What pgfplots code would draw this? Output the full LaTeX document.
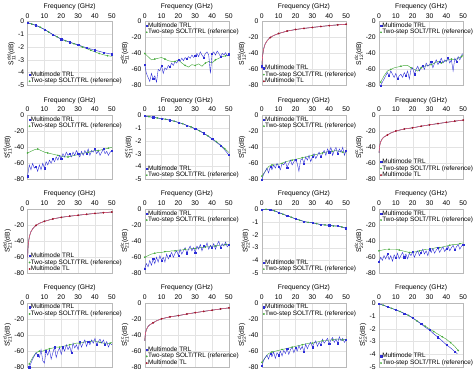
\documentclass[border=0pt]{standalone}
\usepackage{fontspec}
\setmainfont{Liberation Sans}
\usepackage{amsmath}
\usepackage{pgfplots}
\pgfplotsset{compat=1.18}
\usepgfplotslibrary{groupplots}
\definecolor{trl}{RGB}{45,45,215}
\definecolor{ref}{RGB}{70,170,60}
\definecolor{tl}{RGB}{235,95,115}
\definecolor{tlm}{RGB}{160,20,40}
\pgfplotsset{
  trls/.style={color=trl, line width=0.4pt, mark=square*, mark size=0.6pt, mark repeat=5},
  trlm/.style={color=trl, line width=0.45pt, mark=square*, mark size=0.65pt, mark repeat=2},
  refs/.style={color=ref, line width=0.45pt, mark=*, mark size=0.6pt, mark repeat=3},
  refm/.style={color=ref, line width=0.45pt, mark=*, mark size=0.6pt, mark repeat=2, mark phase=2},
  tls/.style={color=tl, line width=0.6pt, mark=none},
  tlmk/.style={only marks, mark=*, mark size=0.75pt, mark options={fill=tlm,draw=tlm}},
  magax/.style={ymin=-5, ymax=0, ytick={-5,-4,...,0}, legend style={at={(0.01,0.0)}, anchor=south west}},
  noiax/.style={ymin=-80, ymax=0, ytick={-80,-60,...,0}, legend style={at={(0.01,1.0)}, anchor=north west}},
  trax/.style={ymin=-80, ymax=0, ytick={-80,-60,...,0}, legend style={at={(0.01,0.0)}, anchor=south west}},
}
\newcommand{\legtwo}{\addlegendimage{color=trl, mark=square*, mark size=0.75pt}\addlegendentry{Multimode TRL}\addlegendimage{color=ref, mark=*, mark size=0.7pt}\addlegendentry{Two-step SOLT/TRL (reference)}}
\newcommand{\legthree}{\legtwo\addlegendimage{color=tlm, mark=*, mark size=0.75pt}\addlegendentry{Multimode TL}}
\newcommand{\Sl}[2]{$\text{S}^{\text{#1}}_{\text{#2}}$(dB)}
\newcommand{\TLa}{(0.05,-60)(0.2,-50)(0.5,-42)(1,-35)(1.5,-31)(2,-28)(3,-24.5)(4,-22)(5,-20)(7,-17.5)(10,-15)(12.5,-13.5)(15,-12)(17.5,-11)(20,-10)(25,-8.6)(30,-7.4)(35,-6.2)(40,-5.1)(45,-4.2)(50,-3.4)}
\newcommand{\TLam}{(5,-20)(10,-15)(15,-12)(20,-10)(25,-8.6)(30,-7.4)(35,-6.2)(40,-5.1)(45,-4.2)(50,-3.4)}
\newcommand{\TLb}{(0.05,-47)(0.2,-42)(0.5,-37)(1,-33)(2,-29)(3,-27)(5,-24.5)(7,-22)(10,-19.5)(15,-17)(20,-15.5)(25,-13.5)(30,-11.8)(35,-10.2)(40,-8.7)(45,-7.2)(50,-5.8)}
\newcommand{\TLbm}{(5,-24.5)(10,-19.5)(15,-17)(20,-15.5)(25,-13.5)(30,-11.8)(35,-10.2)(40,-8.7)(45,-7.2)(50,-5.8)}
\begin{document}
\begin{tikzpicture}
\begin{groupplot}[
  group style={group size=4 by 4, horizontal sep=34pt, vertical sep=31pt},
  scale only axis, width=87pt, height=66pt,
  xmin=0, xmax=50, xtick={0,10,...,50},
  xticklabel pos=upper, xlabel={Frequency (GHz)},
  grid=major, grid style={gray!22, line width=0.3pt},
  axis line style={gray!55, line width=0.4pt},
  major tick length=0pt,
  tick label style={font=\fontsize{7}{8}\selectfont},
  label style={font=\fontsize{7}{8}\selectfont},
  xlabel style={yshift=-3pt},
  ylabel style={yshift=-4pt},
  /pgf/number format/assume math mode=true,
  legend style={draw=none, fill=none, font=\fontsize{6.6}{6.6}\selectfont, inner sep=0.3pt, row sep=-0.6pt, nodes={inner sep=0.6pt}},
  legend cell align=left,
  legend image code/.code={\draw[#1] plot coordinates {(0.06cm,0cm)};},
]
% ---------- Row 1 ----------
\nextgroupplot[magax, ylabel={\Sl{dd}{11}}]
\legtwo
\addplot[refm, forget plot] coordinates {(0,-0.1)(2.5,-0.2)(5,-0.3)(7.5,-0.45)(10,-0.62)(12.5,-0.82)(15,-1.02)(17.5,-1.2)(20,-1.38)(22.5,-1.5)(25,-1.62)(27.5,-1.74)(30,-1.85)(32.5,-2.0)(35,-2.12)(37.5,-2.25)(40,-2.38)(42.5,-2.5)(45,-2.6)(47.5,-2.68)(50,-2.72)};
\addplot[trlm, forget plot] coordinates {(0,-0.1)(2.5,-0.2)(5,-0.3)(7.5,-0.45)(10,-0.62)(12.5,-0.82)(15,-1.02)(17.5,-1.2)(20,-1.38)(22.5,-1.5)(25,-1.62)(27.5,-1.72)(30,-1.82)(32.5,-1.95)(35,-2.05)(37.5,-2.15)(40,-2.25)(42.5,-2.33)(45,-2.42)(47.5,-2.5)(50,-2.55)};

\nextgroupplot[noiax, ylabel={\Sl{dc}{11}}]
\legtwo
\addplot[refs, forget plot] coordinates {(0,-40)(2,-44)(4,-48)(6,-47)(8,-46)(10,-45)(12,-47)(14,-49)(16,-50)(18,-50)(20,-48)(22,-52)(24,-55)(26,-57)(28,-54)(30,-55)(32,-53)(34,-56)(36,-52)(38,-50)(40,-52)(42,-48)(44,-46)(46,-44)(48,-43)(50,-42)};
\addplot[trls, forget plot] coordinates {(0,-54)(1,-65)(2,-70)(3,-75)(4,-65)(5,-72)(6,-68)(7,-76)(8,-60)(9,-62)(10,-55)(11,-65)(12,-58)(13,-60)(14,-55)(15,-57)(16,-52)(17,-55)(18,-50)(19,-52)(20,-48)(21,-50)(22,-46)(23,-49)(24,-45)(25,-47)(26,-44)(27,-46)(28,-42)(29,-45)(30,-43)(31,-40)(32,-44)(33,-38)(34,-42)(35,-45)(36,-40)(37,-38)(38,-42)(39,-65)(40,-40)(41,-38)(42,-42)(43,-37)(44,-40)(45,-44)(46,-40)(47,-42)(48,-39)(49,-43)(50,-41)};

\nextgroupplot[trax, ylabel={\Sl{dd}{12}}]
\legthree
\addplot[refs, mark=none, forget plot] coordinates {\TLa};
\addplot[trls, mark=none, forget plot] coordinates {\TLa};
\addplot[color=trl, only marks, mark=square*, mark size=0.65pt, forget plot] coordinates {(0.1,-56)};
\addplot[tls, forget plot] coordinates {\TLa};
\addplot[tlmk, forget plot] coordinates {\TLam};

\nextgroupplot[noiax, ylabel={\Sl{dc}{12}}]
\legtwo
\addplot[refs, forget plot] coordinates {(1,-76)(3,-68)(5,-62)(7,-60)(9,-58)(11,-57)(13,-56)(15,-55)(17,-55)(19,-58)(21,-60)(23,-62)(25,-58)(27,-56)(29,-55)(31,-54)(33,-52)(35,-50)(37,-52)(39,-50)(41,-48)(43,-47)(45,-48)(47,-46)(49,-44)(50,-42)};
\addplot[trls, forget plot] coordinates {(1,-80)(2,-76)(3,-72)(4,-68)(5,-64)(6,-68)(7,-62)(8,-66)(9,-70)(10,-65)(11,-72)(12,-68)(13,-66)(14,-70)(15,-64)(16,-68)(17,-62)(18,-72)(19,-60)(20,-58)(21,-66)(22,-60)(23,-56)(24,-62)(25,-58)(26,-55)(27,-60)(28,-52)(29,-56)(30,-54)(31,-50)(32,-58)(33,-52)(34,-48)(35,-54)(36,-50)(37,-46)(38,-52)(39,-48)(40,-50)(41,-45)(42,-52)(43,-48)(44,-62)(45,-46)(46,-50)(47,-44)(48,-48)(49,-42)(50,-40)};

% ---------- Row 2 ----------
\nextgroupplot[noiax, ylabel={\Sl{cd}{11}}]
\legtwo
\addplot[refs, forget plot] coordinates {(0,-47)(2,-45)(4,-43)(6,-42)(8,-44)(10,-46)(12,-47)(14,-48)(16,-49)(18,-50)(20,-51)(22,-52)(24,-52)(26,-51)(28,-50)(30,-49)(32,-48)(34,-47)(36,-46)(38,-45)(40,-44)(42,-44)(44,-43)(46,-42)(48,-41)(50,-40)};
\addplot[trls, forget plot] coordinates {(0,-76)(1,-62)(2,-68)(3,-60)(4,-66)(5,-64)(6,-70)(7,-62)(8,-68)(9,-60)(10,-66)(11,-58)(12,-62)(13,-56)(14,-60)(15,-54)(16,-58)(17,-52)(18,-56)(19,-50)(20,-54)(21,-48)(22,-52)(23,-46)(24,-50)(25,-48)(26,-52)(27,-46)(28,-50)(29,-44)(30,-48)(31,-52)(32,-45)(33,-50)(34,-44)(35,-48)(36,-42)(37,-50)(38,-44)(39,-46)(40,-42)(41,-48)(42,-44)(43,-50)(44,-46)(45,-42)(46,-48)(47,-45)(48,-50)(49,-46)(50,-44)};

\nextgroupplot[magax, ylabel={\Sl{cc}{11}}]
\legtwo
\addplot[refm, forget plot] coordinates {(0,-0.05)(2.5,-0.1)(5,-0.15)(7.5,-0.2)(10,-0.25)(12.5,-0.3)(15,-0.38)(17.5,-0.45)(20,-0.55)(22.5,-0.65)(25,-0.78)(27.5,-0.9)(30,-1.05)(32.5,-1.2)(35,-1.4)(37.5,-1.6)(40,-1.82)(42.5,-2.05)(45,-2.3)(47.5,-2.6)(50,-2.9)};
\addplot[trlm, forget plot] coordinates {(0,-0.05)(2.5,-0.1)(5,-0.15)(7.5,-0.2)(10,-0.25)(12.5,-0.3)(15,-0.38)(17.5,-0.45)(20,-0.55)(22.5,-0.65)(25,-0.78)(27.5,-0.9)(30,-1.05)(32.5,-1.2)(35,-1.4)(37.5,-1.6)(40,-1.85)(42.5,-2.1)(45,-2.35)(47.5,-2.7)(50,-3.1)};

\nextgroupplot[noiax, ylabel={\Sl{cd}{12}}]
\legtwo
\addplot[refs, forget plot] coordinates {(0,-76)(2,-70)(4,-64)(6,-62)(8,-62)(10,-61)(12,-60)(14,-58)(16,-57)(18,-56)(20,-55)(22,-54)(24,-53)(26,-52)(28,-51)(30,-50)(32,-49)(34,-48)(36,-47)(38,-46)(40,-45)(42,-45)(44,-44)(46,-45)(48,-46)(50,-46)};
\addplot[trls, forget plot] coordinates {(0,-80)(1,-74)(2,-70)(3,-66)(4,-72)(5,-64)(6,-68)(7,-62)(8,-66)(9,-60)(10,-64)(11,-68)(12,-60)(13,-62)(14,-58)(15,-65)(16,-60)(17,-56)(18,-62)(19,-58)(20,-55)(21,-60)(22,-70)(23,-56)(24,-54)(25,-60)(26,-52)(27,-56)(28,-50)(29,-58)(30,-52)(31,-48)(32,-54)(33,-50)(34,-46)(35,-52)(36,-48)(37,-44)(38,-50)(39,-42)(40,-46)(41,-40)(42,-50)(43,-44)(44,-40)(45,-48)(46,-42)(47,-46)(48,-40)(49,-50)(50,-44)};

\nextgroupplot[trax, ylabel={\Sl{cc}{12}}]
\legthree
\addplot[refs, mark=none, forget plot] coordinates {\TLb};
\addplot[trls, mark=none, forget plot] coordinates {\TLb};
\addplot[tls, forget plot] coordinates {\TLb};
\addplot[tlmk, forget plot] coordinates {\TLbm};

% ---------- Row 3 ----------
\nextgroupplot[trax, ylabel={\Sl{dd}{21}}]
\legthree
\addplot[refs, mark=none, forget plot] coordinates {\TLa};
\addplot[trls, mark=none, forget plot] coordinates {\TLa};
\addplot[tls, forget plot] coordinates {\TLa};
\addplot[tlmk, forget plot] coordinates {\TLam};

\nextgroupplot[noiax, ylabel={\Sl{dc}{21}}]
\legtwo
\addplot[refs, forget plot] coordinates {(0,-60)(2,-58)(4,-56)(6,-55)(8,-54)(10,-54)(12,-53)(14,-53)(16,-52)(18,-52)(20,-51)(22,-51)(24,-50)(26,-50)(28,-49)(30,-49)(32,-48)(34,-48)(36,-47)(38,-47)(40,-46)(42,-46)(44,-45)(46,-45)(48,-44)(50,-44)};
\addplot[trls, forget plot] coordinates {(0,-74)(1,-68)(2,-72)(3,-64)(4,-70)(5,-62)(6,-68)(7,-60)(8,-66)(9,-58)(10,-64)(11,-60)(12,-66)(13,-56)(14,-62)(15,-58)(16,-54)(17,-60)(18,-55)(19,-52)(20,-58)(21,-50)(22,-56)(23,-52)(24,-48)(25,-55)(26,-50)(27,-46)(28,-52)(29,-48)(30,-54)(31,-46)(32,-50)(33,-44)(34,-52)(35,-46)(36,-48)(37,-42)(38,-50)(39,-45)(40,-48)(41,-43)(42,-50)(43,-44)(44,-40)(45,-48)(46,-43)(47,-46)(48,-41)(49,-47)(50,-44)};

\nextgroupplot[magax, ylabel={\Sl{dd}{22}}]
\legtwo
\addplot[refm, forget plot] coordinates {(0,-0.05)(2.5,0)(5,-0.03)(7.5,-0.12)(10,-0.25)(12.5,-0.38)(15,-0.5)(17.5,-0.62)(20,-0.75)(22.5,-0.85)(25,-0.95)(27.5,-1.02)(30,-1.05)(32.5,-1.12)(35,-1.2)(37.5,-1.22)(40,-1.25)(42.5,-1.3)(45,-1.32)(47.5,-1.38)(50,-1.45)};
\addplot[trlm, forget plot] coordinates {(0,-0.05)(2.5,0)(5,-0.03)(7.5,-0.12)(10,-0.25)(12.5,-0.38)(15,-0.5)(17.5,-0.62)(20,-0.75)(22.5,-0.85)(25,-0.95)(27.5,-1.02)(30,-1.05)(32.5,-1.12)(35,-1.2)(37.5,-1.22)(40,-1.25)(42.5,-1.3)(45,-1.3)(47.5,-1.4)(50,-1.48)};

\nextgroupplot[noiax, ylabel={\Sl{dc}{22}}]
\legtwo
\addplot[refs, forget plot] coordinates {(0,-52)(2,-51)(4,-50)(6,-50)(8,-50)(10,-50)(12,-51)(14,-52)(16,-53)(18,-54)(20,-54)(22,-53)(24,-52)(26,-51)(28,-50)(30,-50)(32,-49)(34,-48)(36,-48)(38,-47)(40,-46)(42,-45)(44,-44)(46,-44)(48,-43)(50,-42)};
\addplot[trls, forget plot] coordinates {(0,-66)(1,-60)(2,-64)(3,-58)(4,-62)(5,-56)(6,-63)(7,-58)(8,-65)(9,-57)(10,-61)(11,-55)(12,-62)(13,-58)(14,-54)(15,-60)(16,-56)(17,-62)(18,-55)(19,-58)(20,-53)(21,-60)(22,-55)(23,-52)(24,-58)(25,-54)(26,-50)(27,-56)(28,-52)(29,-58)(30,-50)(31,-54)(32,-49)(33,-55)(34,-51)(35,-48)(36,-54)(37,-50)(38,-47)(39,-53)(40,-49)(41,-46)(42,-52)(43,-48)(44,-45)(45,-51)(46,-47)(47,-44)(48,-50)(49,-46)(50,-44)};

% ---------- Row 4 ----------
\nextgroupplot[noiax, ylabel={\Sl{cd}{21}}]
\legtwo
\addplot[refs, forget plot] coordinates {(1,-76)(3,-68)(5,-62)(7,-60)(9,-60)(11,-58)(13,-57)(15,-56)(17,-55)(19,-55)(21,-54)(23,-53)(25,-52)(27,-51)(29,-50)(31,-50)(33,-49)(35,-48)(37,-48)(39,-47)(41,-48)(43,-49)(45,-50)(47,-51)(49,-50)(50,-49)};
\addplot[trls, forget plot] coordinates {(1,-80)(2,-75)(3,-70)(4,-66)(5,-62)(6,-65)(7,-68)(8,-58)(9,-72)(10,-75)(11,-60)(12,-65)(13,-58)(14,-70)(15,-62)(16,-55)(17,-68)(18,-60)(19,-56)(20,-64)(21,-55)(22,-60)(23,-52)(24,-58)(25,-54)(26,-62)(27,-50)(28,-56)(29,-52)(30,-58)(31,-48)(32,-55)(33,-50)(34,-46)(35,-54)(36,-48)(37,-52)(38,-46)(39,-50)(40,-44)(41,-52)(42,-48)(43,-45)(44,-50)(45,-46)(46,-52)(47,-48)(48,-55)(49,-50)(50,-52)};

\nextgroupplot[trax, ylabel={\Sl{cc}{21}}]
\legthree
\addplot[refs, mark=none, forget plot] coordinates {\TLb};
\addplot[trls, mark=none, forget plot] coordinates {\TLb};
\addplot[tls, forget plot] coordinates {\TLb};
\addplot[tlmk, forget plot] coordinates {\TLbm};

\nextgroupplot[noiax, ylabel={\Sl{cd}{22}}]
\legtwo
\addplot[refs, forget plot] coordinates {(0,-74)(2,-68)(4,-63)(6,-61)(8,-60)(10,-59)(12,-58)(14,-57)(16,-56)(18,-55)(20,-54)(22,-53)(24,-52)(26,-51)(28,-50)(30,-50)(32,-49)(34,-48)(36,-47)(38,-47)(40,-46)(42,-46)(44,-45)(46,-45)(48,-46)(50,-45)};
\addplot[trls, forget plot] coordinates {(0,-78)(1,-72)(2,-68)(3,-65)(4,-70)(5,-63)(6,-67)(7,-61)(8,-69)(9,-62)(10,-65)(11,-60)(12,-66)(13,-59)(14,-63)(15,-57)(16,-64)(17,-58)(18,-55)(19,-62)(20,-56)(21,-60)(22,-53)(23,-58)(24,-54)(25,-61)(26,-51)(27,-57)(28,-52)(29,-49)(30,-55)(31,-50)(32,-47)(33,-54)(34,-49)(35,-52)(36,-45)(37,-50)(38,-47)(39,-44)(40,-51)(41,-46)(42,-43)(43,-49)(44,-45)(45,-50)(46,-42)(47,-47)(48,-44)(49,-49)(50,-46)};

\nextgroupplot[magax, ylabel={\Sl{cc}{22}}]
\legtwo
\addplot[refm, forget plot] coordinates {(0,-0.05)(2.5,-0.15)(5,-0.28)(7.5,-0.4)(10,-0.52)(12.5,-0.65)(15,-0.8)(17.5,-0.95)(20,-1.15)(22.5,-1.38)(25,-1.6)(27.5,-1.8)(30,-2.0)(32.5,-2.22)(35,-2.42)(37.5,-2.62)(40,-2.82)(42.5,-3.08)(45,-3.38)(47,-3.7)};
\addplot[trlm, forget plot] coordinates {(0,-0.05)(2.5,-0.15)(5,-0.28)(7.5,-0.4)(10,-0.52)(12.5,-0.65)(15,-0.8)(17.5,-0.95)(20,-1.15)(22.5,-1.38)(25,-1.62)(27.5,-1.88)(30,-2.1)(32.5,-2.4)(35,-2.65)(37.5,-2.95)(40,-3.25)(42.5,-3.5)(45,-3.78)(46.5,-3.95)};
\end{groupplot}
\end{tikzpicture}
\end{document}
